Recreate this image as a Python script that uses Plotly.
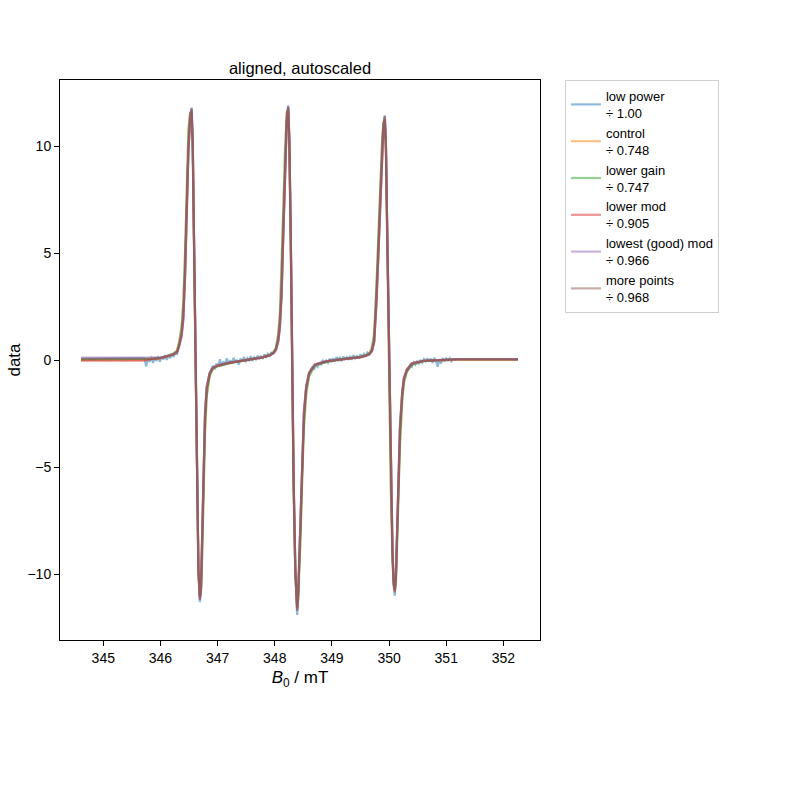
import plotly.graph_objects as go

# field axis shared by the smoother traces (mT)
field = [344.61, 345.70, 345.85, 346.00, 346.12, 346.22, 346.29,
         346.33, 346.37, 346.40, 346.43, 346.46, 346.49, 346.52, 346.545, 346.565, 346.59, 346.615,
         346.64, 346.665, 346.69, 346.71, 346.73, 346.76, 346.78, 346.81, 346.86, 346.92, 347.00,
         347.20, 347.40, 347.60, 347.80, 347.92, 347.98,
         348.02, 348.06, 348.09, 348.12, 348.15, 348.18, 348.21, 348.235, 348.255, 348.28, 348.304,
         348.33, 348.36, 348.375, 348.392, 348.41, 348.43, 348.45, 348.48, 348.51, 348.55, 348.60, 348.70,
         348.90, 349.10, 349.30, 349.50, 349.60, 349.66,
         349.70, 349.74, 349.78, 349.81, 349.85, 349.88, 349.90, 349.925, 349.945, 349.97, 350.00,
         350.03, 350.06, 350.08, 350.10, 350.12, 350.14, 350.165, 350.19, 350.23, 350.26, 350.31, 350.40,
         350.60, 350.90, 351.18, 352.255]

control = [0.02, 0.02, 0.06, 0.1, 0.19, 0.29, 0.43,
           0.85, 1.5, 2.6, 4.8, 8.0, 10.7, 11.6, 11.55, 9.8, 5.1, -0.4,
           -5.9, -10.0, -11.1, -10.8, -9.0, -5.4, -3.2, -1.6, -0.7, -0.38, -0.27,
           -0.13, -0.03, 0.05, 0.15, 0.26, 0.38,
           0.58, 1.15, 2.1, 4.1, 7.0, 9.9, 11.6, 11.7, 10.1, 5.3, -0.5,
           -6.0, -10.0, -11.2, -11.6, -11.1, -9.8, -8.2, -5.4, -3.0, -1.5, -0.7, -0.23,
           -0.06, 0.02, 0.08, 0.16, 0.24, 0.34,
           0.55, 1.2, 3.4, 5.7, 8.5, 10.3, 11.1, 11.3, 9.8, 5.1, -0.4,
           -5.8, -9.3, -10.5, -10.8, -10.2, -8.4, -5.8, -3.8, -1.8, -1.0, -0.52, -0.18,
           -0.03, 0.01, 0.02, 0.02]

lower_gain = [0.04, 0.04, 0.07, 0.11, 0.2, 0.3, 0.45,
              0.9, 1.6, 2.7, 5.0, 8.2, 10.8, 11.6, 11.5, 9.7, 5.0, -0.5,
              -6.0, -10.0, -11.0, -10.8, -9.2, -5.6, -3.4, -1.7, -0.75, -0.4, -0.28,
              -0.14, -0.04, 0.05, 0.15, 0.27, 0.4,
              0.6, 1.2, 2.2, 4.3, 7.2, 10.0, 11.6, 11.6, 10.0, 5.2, -0.6,
              -6.1, -10.1, -11.2, -11.5, -11.2, -10.0, -8.4, -5.6, -3.2, -1.6, -0.75, -0.25,
              -0.07, 0.02, 0.08, 0.16, 0.25, 0.35,
              0.6, 1.3, 3.6, 5.9, 8.7, 10.4, 11.1, 11.2, 9.7, 5.0, -0.5,
              -5.9, -9.4, -10.5, -10.7, -10.3, -8.6, -6.0, -4.0, -1.9, -1.05, -0.55, -0.2,
              -0.04, 0.01, 0.04, 0.04]

lower_mod = [-0.02, -0.02, 0.05, 0.1, 0.18, 0.26, 0.37,
             0.7, 1.15, 1.9, 3.9, 6.9, 9.8, 11.2, 11.7, 10.2, 5.5, 0.0,
             -5.5, -9.8, -11.1, -10.5, -8.2, -4.3, -2.5, -1.25, -0.6, -0.34, -0.24,
             -0.12, -0.03, 0.05, 0.14, 0.24, 0.34,
             0.48, 0.88, 1.55, 3.1, 5.9, 8.9, 11.1, 11.8, 10.3, 5.8, 0.0,
             -5.6, -9.7, -11.1, -11.6, -10.8, -9.1, -7.3, -4.5, -2.4, -1.2, -0.58, -0.19,
             -0.05, 0.02, 0.07, 0.14, 0.21, 0.29,
             0.44, 0.88, 2.7, 4.7, 7.7, 9.7, 10.8, 11.3, 10.0, 5.6, 0.0,
             -5.2, -8.9, -10.3, -10.75, -9.9, -7.7, -4.9, -3.1, -1.45, -0.82, -0.43, -0.14,
             -0.03, 0.02, 0.04, 0.04]

lowest_mod = [0.13, 0.13, 0.1, 0.13, 0.2, 0.27, 0.37,
              0.68, 1.1, 1.85, 3.8, 6.8, 9.8, 11.3, 11.8, 10.3, 5.6, 0.1,
              -5.4, -9.8, -11.2, -10.5, -8.1, -4.2, -2.4, -1.2, -0.58, -0.33, -0.23,
              -0.11, -0.02, 0.06, 0.15, 0.25, 0.34,
              0.47, 0.86, 1.5, 3.0, 5.8, 8.9, 11.2, 11.9, 10.4, 5.9, 0.1,
              -5.5, -9.7, -11.2, -11.7, -10.8, -9.0, -7.2, -4.4, -2.4, -1.2, -0.57, -0.19,
              -0.04, 0.03, 0.08, 0.15, 0.22, 0.3,
              0.43, 0.86, 2.7, 4.7, 7.7, 9.7, 10.8, 11.4, 10.1, 5.7, 0.1,
              -5.2, -8.9, -10.3, -10.8, -9.9, -7.6, -4.9, -3.1, -1.45, -0.8, -0.42, -0.14,
              -0.02, 0.03, 0.06, 0.06]

more_points = [0.06, 0.06, 0.08, 0.12, 0.2, 0.27, 0.38,
               0.7, 1.2, 2.0, 4.0, 7.0, 9.9, 11.3, 11.75, 10.2, 5.5, 0.0,
               -5.5, -9.8, -11.2, -10.6, -8.3, -4.4, -2.6, -1.3, -0.6, -0.35, -0.25,
               -0.12, -0.02, 0.06, 0.15, 0.25, 0.35,
               0.5, 0.9, 1.6, 3.2, 6.0, 9.0, 11.2, 11.85, 10.3, 5.8, 0.0,
               -5.6, -9.8, -11.2, -11.7, -10.9, -9.2, -7.4, -4.6, -2.5, -1.25, -0.6, -0.2,
               -0.05, 0.03, 0.08, 0.15, 0.22, 0.3,
               0.45, 0.9, 2.8, 4.8, 7.8, 9.8, 10.9, 11.4, 10.0, 5.6, 0.0,
               -5.3, -9.0, -10.4, -10.85, -10.0, -7.8, -5.0, -3.2, -1.5, -0.85, -0.45, -0.15,
               -0.03, 0.02, 0.05, 0.05]

# the low power scan is noisier, so it gets its own finer field axis
low_power_field = [344.61, 345.70,
                   345.72, 345.75, 345.78, 345.81, 345.84, 345.87, 345.90, 345.93, 345.96, 345.99,
                   346.02, 346.05, 346.08, 346.11, 346.14, 346.17, 346.20, 346.23, 346.26, 346.29,
                   346.33, 346.37, 346.40, 346.43, 346.46, 346.49, 346.52, 346.545, 346.565, 346.59,
                   346.615, 346.64, 346.665, 346.69, 346.71, 346.73, 346.76, 346.78, 346.81, 346.86,
                   346.89, 346.92, 346.95, 346.98, 347.01, 347.04, 347.07, 347.10, 347.13, 347.16,
                   347.19, 347.22, 347.25, 347.28, 347.31, 347.34, 347.37, 347.40, 347.43, 347.46,
                   347.49, 347.52, 347.55, 347.58, 347.61, 347.64, 347.67, 347.70, 347.73, 347.76,
                   347.79, 347.82, 347.85, 347.88, 347.91, 347.94, 347.97,
                   348.02, 348.06, 348.09, 348.12, 348.15, 348.18, 348.21, 348.235, 348.255, 348.28,
                   348.304, 348.33, 348.36, 348.375, 348.392, 348.41, 348.43, 348.45, 348.48, 348.51,
                   348.55, 348.60,
                   348.63, 348.66, 348.69, 348.72, 348.75, 348.78, 348.81, 348.84, 348.87, 348.90,
                   348.93, 348.96, 348.99, 349.02, 349.05, 349.08, 349.11, 349.14, 349.17, 349.20,
                   349.23, 349.26, 349.29, 349.32, 349.35, 349.38, 349.41, 349.44, 349.47, 349.50,
                   349.53, 349.56, 349.59, 349.62, 349.65,
                   349.70, 349.74, 349.78, 349.81, 349.85, 349.88, 349.90, 349.925, 349.945, 349.97,
                   350.00, 350.03, 350.06, 350.08, 350.10, 350.12, 350.14, 350.165, 350.19, 350.23,
                   350.26, 350.31,
                   350.34, 350.37, 350.40, 350.43, 350.46, 350.49, 350.52, 350.55, 350.58, 350.61,
                   350.64, 350.67, 350.70, 350.73, 350.76, 350.79, 350.82, 350.85, 350.88, 350.91,
                   350.94, 350.97, 351.00, 351.03, 351.06, 351.09, 351.12, 351.15, 351.18,
                   352.255]

low_power = [0.08, 0.08,
             0.1, -0.28, 0.12, -0.08, 0.18, -0.12, 0.08, -0.02, 0.2, -0.06,
             0.16, 0.04, 0.24, 0.02, 0.22, 0.1, 0.3, 0.16, 0.36, 0.3,
             0.75, 1.25, 2.1, 4.0, 7.1, 10.0, 11.4, 11.8, 10.2, 5.4,
             -0.1, -5.6, -9.9, -11.3, -10.7, -8.3, -4.5, -2.6, -1.3, -0.65,
             -0.4, -0.25, -0.42, -0.15, -0.3, 0.05, -0.28, -0.05, -0.22, 0.1,
             -0.18, 0.0, -0.15, 0.12, -0.1, 0.02, -0.2, 0.08, -0.05, 0.15,
             -0.08, 0.1, 0.0, 0.2, -0.02, 0.14, 0.05, 0.22, 0.08, 0.18,
             0.1, 0.28, 0.12, 0.3, 0.2, 0.36, 0.32,
             0.5, 0.95, 1.7, 3.3, 6.1, 9.1, 11.3, 11.9, 10.4, 5.9,
             0.1, -5.6, -9.9, -11.4, -11.9, -11.0, -9.3, -7.5, -4.7, -2.6,
             -1.3, -0.65,
             -0.5, -0.3, -0.42, -0.2, -0.3, -0.1, -0.22, 0.02, -0.15, -0.02,
             -0.12, 0.08, -0.08, 0.1, -0.05, 0.15, 0.0, 0.12, -0.04, 0.18,
             0.05, 0.14, 0.02, 0.2, 0.08, 0.24, 0.1, 0.2, 0.12, 0.28,
             0.15, 0.3, 0.18, 0.36, 0.26,
             0.45, 0.95, 2.9, 4.9, 7.9, 9.9, 11.0, 11.45, 10.1, 5.7,
             0.1, -5.3, -9.1, -10.5, -11.0, -10.1, -7.9, -5.1, -3.3, -1.6,
             -0.9, -0.5,
             -0.4, -0.22, -0.3, -0.1, -0.2, -0.05, -0.15, 0.02, -0.1, 0.06,
             -0.04, 0.1, -0.05, 0.08, -0.12, 0.12, -0.02, -0.3, 0.05, -0.15,
             0.1, -0.05, 0.08, 0.0, 0.1, -0.04, 0.06, 0.02, 0.05,
             0.05]

names = ["low power<br>÷ 1.00", "control<br>÷ 0.748", "lower gain<br>÷ 0.747",
         "lower mod<br>÷ 0.905", "lowest (good) mod<br>÷ 0.966", "more points<br>÷ 0.968"]
colors = ["#1f77b4", "#ff7f0e", "#2ca02c", "#d62728", "#9467bd", "#8c564b"]

assert len(low_power) == len(low_power_field)
series = [(low_power_field, low_power), (field, control), (field, lower_gain),
          (field, lower_mod), (field, lowest_mod), (field, more_points)]

fig = go.Figure()
for (xs, ys), name, color in zip(series, names, colors):
    assert len(xs) == len(ys)
    fig.add_trace(go.Scatter(x=xs, y=ys, mode="lines", name=name,
                             line=dict(color=color, width=2.2), opacity=0.5))

font = "Liberation Sans, Arial, sans-serif"
fig.update_layout(
    width=800, height=800,
    margin=dict(l=60, r=260, t=80, b=160, autoexpand=False),
    plot_bgcolor="white", paper_bgcolor="white",
    font=dict(family=font, size=14, color="black"),
    title=dict(text="aligned, autoscaled", x=0.5, xref="paper", xanchor="center",
               y=1 - 68 / 800, yref="container", yanchor="middle",
               font=dict(size=16.5, color="black")),
    legend=dict(x=1.052, y=1.0, xanchor="left", yanchor="top",
                bgcolor="white", bordercolor="#d0d0d0", borderwidth=1,
                font=dict(size=13), tracegroupgap=0),
    showlegend=True,
)
fig.update_xaxes(range=[344.243, 352.64], dtick=1, tick0=345, automargin=False,
                 showline=True, mirror=True, linecolor="black", linewidth=1,
                 ticks="outside", ticklen=5, tickcolor="black",
                 showgrid=False, zeroline=False,
                 title=dict(text="<i>B</i><sub>0</sub> / mT", standoff=6))
fig.update_yaxes(range=[-13.07, 13.1], dtick=5, tick0=0, automargin=False,
                 showline=True, mirror=True, linecolor="black", linewidth=1,
                 ticks="outside", ticklen=5, tickcolor="black",
                 showgrid=False, zeroline=False,
                 title=dict(text="data", standoff=2))

# drop the browser's default 8px body margin so the figure sits at the page corner
fig.write_html("out.html", config={"displayModeBar": False},
               post_script="document.body.style.margin='0';")
